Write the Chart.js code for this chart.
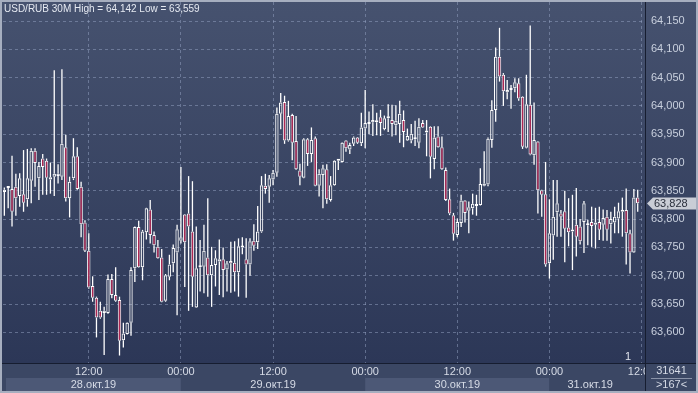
<!DOCTYPE html>
<html>
<head>
<meta charset="utf-8">
<script src="https://cdn.jsdelivr.net/npm/chart.js@4.4.1/dist/chart.umd.min.js"></script>
<style>
  html, body { margin: 0; padding: 0; background: #2c3757; }
  #chart { display: block; }
</style>
</head>
<body>
<canvas id="chart" width="698" height="393"></canvas>
<script>
// USD/RUB 30M candles, 28.10.19 01:00 .. 31.10.19 11:30
const opens = [
  63.848, 63.855, 63.853, 63.857, 63.841, 63.844, 63.835, 63.868, 63.921, 63.872,
  63.907, 63.903, 63.870, 63.875, 63.876, 63.875, 63.927, 63.837, 63.872, 63.911,
  63.857, 63.794, 63.744, 63.682, 63.661, 63.638, 63.634, 63.634, 63.694, 63.666,
  63.657, 63.586, 63.597, 63.617, 63.713, 63.786, 63.715, 63.777, 63.817, 63.772,
  63.751, 63.732, 63.656, 63.698, 63.722, 63.741, 63.762, 63.808, 63.810, 63.778,
  63.644, 63.715, 63.716, 63.732, 63.701, 63.719, 63.725, 63.729, 63.711, 63.726,
  63.723, 63.706, 63.750, 63.729, 63.720, 63.762, 63.759, 63.778, 63.859, 63.857,
  63.870, 63.882, 63.986, 64.007, 63.939, 63.984, 63.938, 63.886, 63.873, 63.941,
  63.915, 63.943, 63.859, 63.878, 63.888, 63.834, 63.860, 63.903, 63.901, 63.939,
  63.923, 63.933, 63.944, 63.934, 63.960, 63.968, 63.971, 63.971, 63.980, 63.959,
  63.978, 63.975, 63.966, 63.968, 63.975, 63.939, 63.939, 63.941, 63.935, 63.970,
  63.953, 63.963, 63.906, 63.946, 63.927, 63.887, 63.835, 63.807, 63.772, 63.793,
  63.833, 63.815, 63.819, 63.823, 63.825, 63.859, 63.861, 63.940, 63.993, 64.087,
  64.055, 64.024, 64.028, 64.031, 64.040, 64.016, 63.926, 64.002, 63.913, 63.937,
  63.851, 63.844, 63.722, 63.771, 63.812, 63.810, 63.814, 63.785, 63.778, 63.790,
  63.787, 63.795, 63.789, 63.795, 63.790, 63.795, 63.790, 63.804, 63.791, 63.794,
  63.801, 63.813, 63.816, 63.775, 63.741, 63.838
];
const highs = [
  63.856, 63.858, 63.912, 63.880, 63.881, 63.922, 63.924, 63.925, 63.925, 63.901,
  63.915, 63.907, 63.900, 64.063, 63.897, 64.065, 63.949, 63.875, 63.943, 63.927,
  63.866, 63.798, 63.775, 63.699, 63.663, 63.654, 63.645, 63.702, 63.703, 63.715,
  63.663, 63.617, 63.618, 63.715, 63.787, 63.797, 63.781, 63.820, 63.834, 63.778,
  63.763, 63.747, 63.703, 63.737, 63.755, 63.790, 63.892, 63.809, 63.876, 63.867,
  63.787, 63.763, 63.790, 63.837, 63.751, 63.745, 63.764, 63.750, 63.726, 63.760,
  63.761, 63.766, 63.768, 63.766, 63.766, 63.791, 63.823, 63.876, 63.880, 63.878,
  63.887, 63.997, 64.023, 64.018, 64.009, 63.986, 63.982, 63.898, 63.943, 63.943,
  63.962, 63.946, 63.888, 63.896, 63.897, 63.876, 63.904, 63.906, 63.936, 63.940,
  63.935, 63.946, 63.945, 63.988, 64.028, 63.990, 64.003, 63.988, 63.993, 63.983,
  64.003, 64.002, 64.001, 64.009, 63.992, 63.960, 63.968, 63.974, 63.978, 63.975,
  63.975, 63.964, 63.964, 63.964, 63.946, 63.891, 63.854, 63.811, 63.801, 63.843,
  63.834, 63.831, 63.845, 63.843, 63.890, 63.920, 63.944, 64.010, 64.103, 64.138,
  64.058, 64.046, 64.037, 64.049, 64.049, 64.017, 64.055, 64.142, 64.006, 63.938,
  63.852, 63.901, 63.835, 63.869, 63.869, 63.816, 63.850, 63.837, 63.843, 63.855,
  63.800, 63.832, 63.799, 63.822, 63.820, 63.822, 63.817, 63.816, 63.813, 63.822,
  63.829, 63.838, 63.854, 63.781, 63.853, 63.852
];
const lows = [
  63.806, 63.819, 63.787, 63.806, 63.822, 63.813, 63.822, 63.828, 63.857, 63.834,
  63.843, 63.843, 63.845, 63.841, 63.863, 63.869, 63.831, 63.803, 63.869, 63.852,
  63.768, 63.742, 63.677, 63.654, 63.591, 63.624, 63.560, 63.633, 63.660, 63.654,
  63.559, 63.573, 63.596, 63.594, 63.689, 63.714, 63.692, 63.764, 63.757, 63.741,
  63.730, 63.653, 63.654, 63.692, 63.706, 63.630, 63.757, 63.680, 63.638, 63.645,
  63.643, 63.672, 63.669, 63.663, 63.645, 63.681, 63.666, 63.662, 63.672, 63.670,
  63.672, 63.663, 63.738, 63.661, 63.700, 63.744, 63.747, 63.776, 63.845, 63.829,
  63.860, 63.875, 63.959, 63.933, 63.937, 63.904, 63.887, 63.860, 63.872, 63.894,
  63.901, 63.858, 63.840, 63.819, 63.827, 63.831, 63.859, 63.887, 63.900, 63.919,
  63.915, 63.929, 63.933, 63.929, 63.925, 63.950, 63.947, 63.948, 63.947, 63.957,
  63.954, 63.946, 63.948, 63.935, 63.927, 63.938, 63.934, 63.929, 63.925, 63.961,
  63.911, 63.872, 63.888, 63.926, 63.887, 63.832, 63.807, 63.762, 63.768, 63.786,
  63.794, 63.775, 63.808, 63.806, 63.824, 63.858, 63.858, 63.926, 63.972, 64.043,
  64.000, 64.012, 63.995, 64.024, 64.009, 63.924, 63.925, 63.913, 63.896, 63.810,
  63.804, 63.716, 63.695, 63.728, 63.769, 63.769, 63.724, 63.752, 63.710, 63.734,
  63.755, 63.740, 63.754, 63.751, 63.748, 63.763, 63.762, 63.762, 63.757, 63.775,
  63.775, 63.769, 63.720, 63.704, 63.740, 63.813
];
const closes = [
  63.852, 63.857, 63.813, 63.837, 63.872, 63.829, 63.872, 63.921, 63.899, 63.894,
  63.892, 63.873, 63.874, 63.880, 63.880, 63.933, 63.837, 63.866, 63.911, 63.853,
  63.791, 63.744, 63.679, 63.661, 63.626, 63.626, 63.638, 63.694, 63.666, 63.656,
  63.585, 63.598, 63.617, 63.710, 63.786, 63.715, 63.778, 63.819, 63.772, 63.754,
  63.731, 63.654, 63.701, 63.720, 63.749, 63.782, 63.768, 63.759, 63.787, 63.698,
  63.713, 63.717, 63.744, 63.701, 63.719, 63.731, 63.729, 63.710, 63.722, 63.722,
  63.706, 63.752, 63.751, 63.720, 63.761, 63.753, 63.778, 63.860, 63.853, 63.872,
  63.882, 63.986, 64.006, 63.939, 63.982, 63.935, 63.888, 63.875, 63.941, 63.915,
  63.940, 63.859, 63.880, 63.890, 63.835, 63.860, 63.903, 63.904, 63.935, 63.925,
  63.931, 63.944, 63.935, 63.962, 63.970, 63.971, 63.975, 63.974, 63.970, 63.978,
  63.981, 63.968, 63.974, 63.986, 63.954, 63.947, 63.951, 63.943, 63.963, 63.962,
  63.956, 63.910, 63.944, 63.927, 63.888, 63.834, 63.810, 63.774, 63.795, 63.833,
  63.811, 63.821, 63.827, 63.824, 63.862, 63.863, 63.942, 63.993, 64.087, 64.052,
  64.026, 64.028, 64.031, 64.042, 64.013, 63.928, 64.003, 63.914, 63.940, 63.851,
  63.843, 63.720, 63.775, 63.804, 63.828, 63.804, 63.783, 63.777, 63.781, 63.769,
  63.761, 63.828, 63.790, 63.788, 63.794, 63.781, 63.802, 63.781, 63.800, 63.804,
  63.814, 63.816, 63.775, 63.741, 63.838, 63.828
];

// axis ticks
const priceTicks = [63.60, 63.65, 63.70, 63.75, 63.80, 63.85, 63.90, 63.95, 64.00, 64.05, 64.10, 64.15];
const timeTickIdx = [22, 46, 70, 94, 118, 142, 166];
const timeTickLabels = ['12:00', '00:00', '12:00', '00:00', '12:00', '00:00', '12:00'];
const dayStartIdx = [46, 94, 142];
const dayLabels = ['28.окт.19', '29.окт.19', '30.окт.19', '31.окт.19'];

const upFill = 'rgba(0,0,0,0)';
const downFill = '#ad2753';
const FONT = 'Liberation Sans, Arial, sans-serif';

const bodies = opens.map((o, i) => ({ x: i, y: [o, closes[i]] }));
const wickHi = opens.map((o, i) => ({ x: i, y: [Math.max(o, closes[i]), highs[i]] }));
const wickLo = opens.map((o, i) => ({ x: i, y: [lows[i], Math.min(o, closes[i])] }));

function fmt(v) {
    return v.toFixed(3).replace('.', ',');
}

function dayEdges(chart) {
    const area = chart.chartArea;
    const xs = chart.scales.x;
    return [area.left + 3].concat(dayStartIdx.map(i => xs.getPixelForValue(i)), [area.right - 14]);
}

const decor = {
    id: 'decor',
    beforeDraw(chart) {
        const c = chart.ctx;
        const W = chart.width, H = chart.height;
        const area = chart.chartArea;
        const g = c.createLinearGradient(0, 0, 0, area.bottom);
        g.addColorStop(0, '#46526f');
        g.addColorStop(1, '#2c3757');
        c.fillStyle = g;
        c.fillRect(0, 0, W, H);

        // time axis strip
        c.fillStyle = '#3b4764';
        c.fillRect(0, area.bottom, W, H - area.bottom);

        // day bands
        const edges = dayEdges(chart);
        for (let k = 0; k < dayLabels.length; k++) {
            c.fillStyle = k % 2 === 0 ? '#4c5876' : '#3b4764';
            c.fillRect(edges[k], area.bottom + 15, edges[k + 1] - edges[k], 13);
        }
    },
    afterDraw(chart) {
        const c = chart.ctx;
        const W = chart.width, H = chart.height;
        const area = chart.chartArea;
        const ys = chart.scales.y;

        // bottom-right info box
        c.fillStyle = '#3b4764';
        c.fillRect(area.right, area.bottom, W - area.right, H - area.bottom);

        // separators
        c.strokeStyle = '#161d30';
        c.lineWidth = 1;
        c.beginPath();
        c.moveTo(area.right + 0.5, 0);
        c.lineTo(area.right + 0.5, H);
        c.moveTo(0, area.bottom + 0.5);
        c.lineTo(W, area.bottom + 0.5);
        c.stroke();

        // day labels
        const edges = dayEdges(chart);
        c.font = '11px ' + FONT;
        c.fillStyle = '#d6dbe6';
        c.textAlign = 'center';
        c.textBaseline = 'middle';
        for (let k = 0; k < dayLabels.length; k++) {
            c.fillText(dayLabels[k], (edges[k] + edges[k + 1]) / 2, area.bottom + 22);
        }

        // info box text
        c.fillText('31641', (area.right + W) / 2, area.bottom + 8);
        c.fillText('>167<', (area.right + W) / 2, area.bottom + 22);
        c.strokeStyle = '#8a93a8';
        c.beginPath();
        c.moveTo(area.right + 6, area.bottom + 15.5);
        c.lineTo(W - 6, area.bottom + 15.5);
        c.stroke();

        // marker "1"
        c.fillStyle = '#e0e4ec';
        c.fillText('1', area.right - 17, area.bottom - 6);

        // title
        c.textAlign = 'left';
        c.font = '10px ' + FONT;
        c.fillStyle = '#e6eaf2';
        c.fillText('USD/RUB 30M High = ' + fmt(Math.max(...highs)) + ' Low = ' + fmt(Math.min(...lows)), 4, 9);

        // last price tag
        c.font = '11px ' + FONT;
        const last = closes[closes.length - 1];
        const py = Math.round(ys.getPixelForValue(last)) + 0.5;
        c.fillStyle = '#c9cdd6';
        c.beginPath();
        c.moveTo(area.right + 2, py);
        c.lineTo(area.right + 8, py - 6);
        c.lineTo(W - 2, py - 6);
        c.lineTo(W - 2, py + 6);
        c.lineTo(area.right + 8, py + 6);
        c.closePath();
        c.fill();
        c.fillStyle = '#2a2f3c';
        c.fillText(fmt(last), area.right + 9, py + 0.5);

        // frame
        c.strokeStyle = '#a6aebf';
        c.lineWidth = 2;
        c.strokeRect(1, 1, W - 2, H - 2);
    }
};

const gridColor = 'rgba(150,163,196,0.5)';

new Chart(document.getElementById('chart'), {
    type: 'bar',
    data: {
        datasets: [
            {
                data: bodies,
                backgroundColor: ctx => (closes[ctx.dataIndex] >= opens[ctx.dataIndex] ? upFill : downFill),
                borderColor: '#ffffff',
                borderWidth: 1,
                borderSkipped: false,
                barThickness: 3.4,
                minBarLength: 2,
                inflateAmount: 0,
                grouped: false
            },
            {
                data: wickHi,
                backgroundColor: '#ffffff',
                borderWidth: 0,
                barThickness: 1.3,
                inflateAmount: 0,
                grouped: false
            },
            {
                data: wickLo,
                backgroundColor: '#ffffff',
                borderWidth: 0,
                barThickness: 1.3,
                inflateAmount: 0,
                grouped: false
            }
        ]
    },
    options: {
        responsive: false,
        animation: false,
        events: [],
        layout: { padding: { left: 3, top: 2, right: 0, bottom: 0 } },
        plugins: { legend: { display: false }, tooltip: { enabled: false } },
        scales: {
            x: {
                type: 'linear',
                min: -0.35,
                max: 166.9,
                offset: false,
                afterBuildTicks: s => { s.ticks = timeTickIdx.map(v => ({ value: v })); },
                afterFit: s => {
                    s.height = 30;
                    s.paddingLeft = 0;
                    s.paddingRight = 0;
                },
                ticks: {
                    autoSkip: false,
                    maxRotation: 0,
                    padding: 2,
                    color: '#d6dbe6',
                    font: { family: FONT, size: 11 },
                    callback: (v, i) => timeTickLabels[i]
                },
                grid: { color: gridColor, drawTicks: false, offset: false },
                border: { display: false, dash: [3, 3] }
            },
            y: {
                position: 'right',
                min: 63.5458,
                max: 64.1836,
                afterBuildTicks: s => { s.ticks = priceTicks.map(v => ({ value: v })); },
                afterFit: s => {
                    s.width = 53;
                    s.paddingTop = 0;
                    s.paddingBottom = 0;
                },
                ticks: {
                    padding: 6,
                    color: '#c9d0de',
                    font: { family: FONT, size: 11 },
                    callback: v => fmt(v)
                },
                grid: { color: gridColor, drawTicks: false },
                border: { display: false, dash: [3, 3] }
            }
        }
    },
    plugins: [decor]
});
</script>
</body>
</html>
